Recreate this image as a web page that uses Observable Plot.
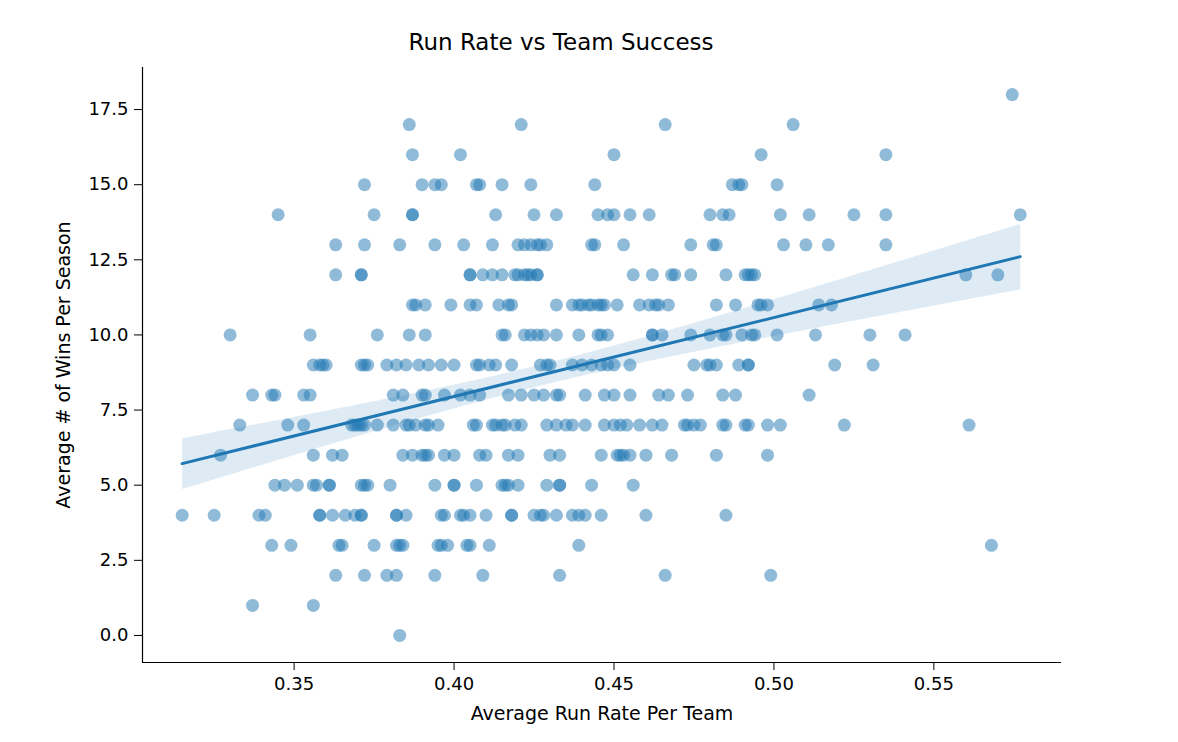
<!DOCTYPE html>
<html><head><meta charset="utf-8">
<script src="https://cdn.jsdelivr.net/npm/d3@7"></script>
<script src="https://cdn.jsdelivr.net/npm/@observablehq/plot@0.6"></script>
<style>
body{margin:0;background:#fff;font-family:"DejaVu Sans",sans-serif;}
#title{position:relative;height:56px;width:1178px;}
#title span{position:absolute;left:561px;top:42px;transform:translate(-50%,-50%);font-size:23px;color:#000;white-space:nowrap;}
#chart g[aria-label="x-axis label"] text, #chart g[aria-label="y-axis label"] text{font-size:19px;}
</style></head><body>
<div id="title"><span>Run Rate vs Team Success</span></div>
<div id="chart"></div>
<script>
// Average run rate per team, grouped by average wins per season (0..18)
const rate0 = [0.383];
const rate1 = [0.337, 0.356];
const rate2 = [0.363, 0.372, 0.379, 0.382, 0.394, 0.409, 0.433, 0.466, 0.499];
const rate3 = [0.343, 0.349, 0.364, 0.365, 0.375, 0.382, 0.383, 0.384, 0.395, 0.396, 0.398, 0.404, 0.405, 0.411, 0.439, 0.568];
const rate4 = [0.315, 0.325, 0.339, 0.341, 0.358, 0.358, 0.362, 0.366, 0.369, 0.371, 0.371, 0.382, 0.382, 0.385, 0.396, 0.397, 0.402, 0.403, 0.405, 0.410, 0.418, 0.418, 0.425, 0.427, 0.428, 0.432, 0.437, 0.439, 0.441, 0.446, 0.460, 0.485];
const rate5 = [0.344, 0.347, 0.351, 0.356, 0.357, 0.361, 0.361, 0.371, 0.372, 0.373, 0.380, 0.394, 0.400, 0.400, 0.407, 0.415, 0.416, 0.417, 0.420, 0.429, 0.433, 0.433, 0.443, 0.456];
const rate6 = [0.327, 0.356, 0.362, 0.365, 0.384, 0.387, 0.390, 0.391, 0.392, 0.397, 0.400, 0.408, 0.410, 0.417, 0.420, 0.430, 0.433, 0.446, 0.451, 0.452, 0.453, 0.455, 0.460, 0.468, 0.482, 0.498];
const rate7 = [0.333, 0.348, 0.353, 0.368, 0.369, 0.370, 0.371, 0.372, 0.376, 0.381, 0.385, 0.386, 0.388, 0.391, 0.392, 0.395, 0.406, 0.407, 0.412, 0.413, 0.415, 0.416, 0.419, 0.421, 0.429, 0.432, 0.435, 0.437, 0.441, 0.447, 0.450, 0.452, 0.454, 0.458, 0.462, 0.465, 0.472, 0.473, 0.475, 0.477, 0.484, 0.485, 0.491, 0.492, 0.498, 0.502, 0.522, 0.561];
const rate8 = [0.337, 0.343, 0.344, 0.353, 0.355, 0.381, 0.384, 0.390, 0.391, 0.397, 0.402, 0.405, 0.408, 0.417, 0.421, 0.425, 0.428, 0.432, 0.433, 0.441, 0.447, 0.450, 0.455, 0.464, 0.467, 0.473, 0.484, 0.488, 0.511];
const rate9 = [0.356, 0.358, 0.359, 0.360, 0.371, 0.372, 0.373, 0.379, 0.382, 0.385, 0.389, 0.392, 0.396, 0.400, 0.407, 0.408, 0.411, 0.413, 0.418, 0.427, 0.429, 0.430, 0.437, 0.440, 0.443, 0.446, 0.448, 0.450, 0.455, 0.475, 0.479, 0.480, 0.482, 0.489, 0.492, 0.492, 0.519, 0.531];
const rate10 = [0.330, 0.355, 0.376, 0.386, 0.391, 0.415, 0.416, 0.422, 0.424, 0.426, 0.428, 0.432, 0.439, 0.445, 0.446, 0.448, 0.462, 0.462, 0.465, 0.474, 0.480, 0.484, 0.485, 0.490, 0.493, 0.494, 0.501, 0.513, 0.530, 0.541];
const rate11 = [0.387, 0.388, 0.391, 0.399, 0.405, 0.407, 0.414, 0.417, 0.418, 0.432, 0.437, 0.439, 0.440, 0.442, 0.443, 0.445, 0.446, 0.447, 0.451, 0.458, 0.461, 0.463, 0.464, 0.467, 0.482, 0.488, 0.495, 0.496, 0.498, 0.514, 0.518];
const rate12 = [0.363, 0.371, 0.371, 0.405, 0.405, 0.409, 0.412, 0.415, 0.419, 0.420, 0.422, 0.423, 0.424, 0.426, 0.426, 0.456, 0.462, 0.468, 0.469, 0.474, 0.485, 0.491, 0.492, 0.493, 0.494, 0.560, 0.570];
const rate13 = [0.363, 0.372, 0.383, 0.394, 0.403, 0.412, 0.420, 0.422, 0.424, 0.426, 0.427, 0.429, 0.443, 0.444, 0.453, 0.474, 0.481, 0.482, 0.503, 0.510, 0.517, 0.535];
const rate14 = [0.345, 0.375, 0.387, 0.387, 0.413, 0.425, 0.432, 0.445, 0.448, 0.450, 0.455, 0.461, 0.480, 0.484, 0.486, 0.502, 0.511, 0.525, 0.535, 0.577];
const rate15 = [0.372, 0.390, 0.394, 0.396, 0.407, 0.408, 0.415, 0.424, 0.444, 0.487, 0.489, 0.490, 0.501];
const rate16 = [0.387, 0.402, 0.450, 0.496, 0.535];
const rate17 = [0.386, 0.421, 0.466, 0.506];
const rate18 = [0.5745];

const rowsByWins = [rate0, rate1, rate2, rate3, rate4, rate5, rate6, rate7, rate8, rate9,
  rate10, rate11, rate12, rate13, rate14, rate15, rate16, rate17, rate18];

const xDomain = [0.3026, 0.5899];
const yDomain = [-0.9, 18.9];
const xTicks = [0.35, 0.40, 0.45, 0.50, 0.55];
const yTicks = [0, 2.5, 5, 7.5, 10, 12.5, 15, 17.5];

const data = rowsByWins.flatMap((arr, w) => arr.map(r => ({rate: r, wins: w})));

const plot = Plot.plot({
  width: 1178,
  height: 686,
  marginLeft: 142,
  marginRight: 117,
  marginTop: 11,
  marginBottom: 80,
  style: {fontFamily: "DejaVu Sans, sans-serif", fontSize: "18px", color: "#000", background: "#fff", overflow: "visible"},
  x: {domain: xDomain, ticks: xTicks, tickFormat: d3.format(".2f"), tickSize: 8, tickPadding: 7,
      label: "Average Run Rate Per Team", labelAnchor: "center", labelOffset: 57, labelArrow: "none"},
  y: {domain: yDomain, ticks: yTicks, tickFormat: d3.format(".1f"), tickSize: 8, tickPadding: 6,
      label: "Average # of Wins Per Season", labelAnchor: "center", labelOffset: 86, labelArrow: "none"},
  marks: [
    Plot.dot(data, {x: "rate", y: "wins", r: 6.5, fill: "#1f77b4", fillOpacity: 0.5, stroke: "none"}),
    Plot.linearRegressionY(data, {x: "rate", y: "wins", stroke: "#1f77b4", strokeWidth: 3, fill: "#1f77b4", fillOpacity: 0.15, ci: 0.95}),
    Plot.ruleX([xDomain[0]], {stroke: "#000", strokeWidth: 1.2}),
    Plot.ruleY([yDomain[0]], {stroke: "#000", strokeWidth: 1.2})
  ]
});
document.getElementById("chart").appendChild(plot);
</script>
</body></html>
